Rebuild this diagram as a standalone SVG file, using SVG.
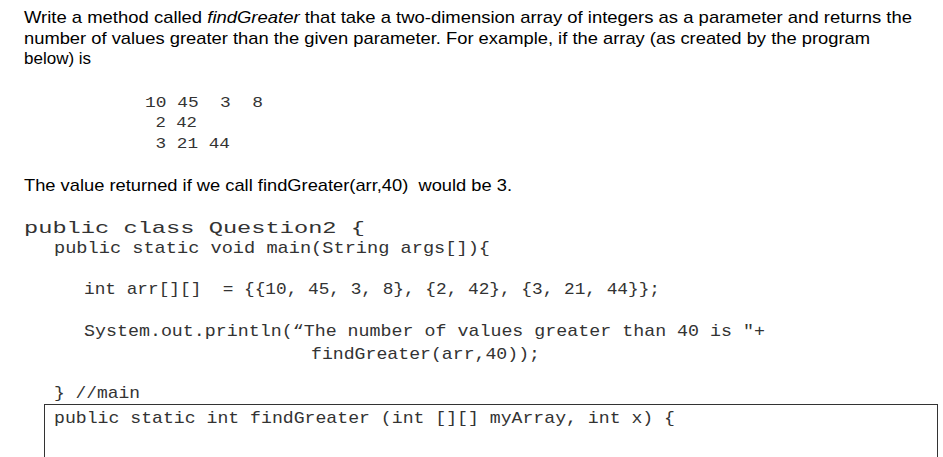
<svg xmlns="http://www.w3.org/2000/svg" width="943" height="457" viewBox="0 0 943 457">
<style>
.p{font-family:"Liberation Sans",Arial,sans-serif;font-size:17px;fill:#000}
.c{font-family:"Liberation Mono","Courier New",monospace;font-size:17px;fill:#333}
.n{font-family:"Liberation Mono","Courier New",monospace;font-size:15px;fill:#333}
</style>
<rect width="943" height="457" fill="#fff"/>
<text class="p" x="24" y="23" textLength="888" lengthAdjust="spacingAndGlyphs">Write a method called <tspan font-style="italic">findGreater</tspan> that take a two-dimension array of integers as a parameter and returns the</text>
<text class="p" x="24" y="44" textLength="846" lengthAdjust="spacingAndGlyphs">number of values greater than the given parameter. For example, if the array (as created by the program</text>
<text class="p" x="24" y="64">below) is</text>
<text class="n" x="145" y="107" textLength="118" lengthAdjust="spacingAndGlyphs" xml:space="preserve">10 45  3  8</text>
<text class="n" x="145" y="127" textLength="52" lengthAdjust="spacingAndGlyphs" xml:space="preserve"> 2 42</text>
<text class="n" x="145" y="148" textLength="85" lengthAdjust="spacingAndGlyphs" xml:space="preserve"> 3 21 44</text>
<text class="p" x="24" y="191" textLength="488" lengthAdjust="spacingAndGlyphs" xml:space="preserve">The value returned if we call findGreater(arr,40)  would be 3.</text>
<text class="c" x="24" y="233" textLength="341" lengthAdjust="spacingAndGlyphs">public class Question2 {</text>
<text class="c" x="54" y="253" textLength="436" lengthAdjust="spacingAndGlyphs">public static void main(String args[]){</text>
<text class="c" x="84" y="294" textLength="576" lengthAdjust="spacingAndGlyphs" xml:space="preserve">int arr[][]  = {{10, 45, 3, 8}, {2, 42}, {3, 21, 44}};</text>
<text class="c" x="84" y="336" textLength="681" lengthAdjust="spacingAndGlyphs">System.out.println(“The number of values greater than 40 is "+</text>
<text class="c" x="311" y="359" textLength="229" lengthAdjust="spacingAndGlyphs">findGreater(arr,40));</text>
<text class="c" x="54" y="398" textLength="86" lengthAdjust="spacingAndGlyphs">} //main</text>
<rect x="44.5" y="404.5" width="893" height="60" fill="none" stroke="#333" stroke-width="1"/>
<text class="c" x="54" y="423" textLength="621" lengthAdjust="spacingAndGlyphs">public static int findGreater (int [][] myArray, int x) {</text>
</svg>
